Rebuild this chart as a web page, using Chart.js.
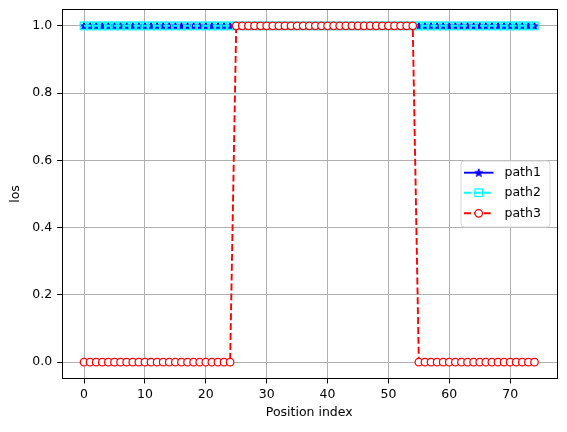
<!DOCTYPE html>
<html>
<head>
<meta charset="utf-8">
<script src="https://cdn.jsdelivr.net/npm/chart.js@4.4.1/dist/chart.umd.min.js"></script>
<style>
  html, body { margin: 0; padding: 0; background: #fff; }
  #box { width: 567px; height: 432px; }
</style>
</head>
<body>
<div id="box"><canvas id="grafico" width="567" height="432"></canvas></div>
<script>
// positions along the path
var positions = [0, 1, 2, 3, 4, 5, 6, 7, 8, 9, 10, 11, 12, 13, 14, 15, 16, 17, 18, 19,
    20, 21, 22, 23, 24, 25, 26, 27, 28, 29, 30, 31, 32, 33, 34, 35, 36, 37, 38, 39,
    40, 41, 42, 43, 44, 45, 46, 47, 48, 49, 50, 51, 52, 53, 54, 55, 56, 57, 58, 59,
    60, 61, 62, 63, 64, 65, 66, 67, 68, 69, 70, 71, 72, 73, 74];

var path1 = [1, 1, 1, 1, 1, 1, 1, 1, 1, 1, 1, 1, 1, 1, 1, 1, 1, 1, 1, 1,
    1, 1, 1, 1, 1, 1, 1, 1, 1, 1, 1, 1, 1, 1, 1, 1, 1, 1, 1, 1,
    1, 1, 1, 1, 1, 1, 1, 1, 1, 1, 1, 1, 1, 1, 1, 1, 1, 1, 1, 1,
    1, 1, 1, 1, 1, 1, 1, 1, 1, 1, 1, 1, 1, 1, 1];

var path2 = [1, 1, 1, 1, 1, 1, 1, 1, 1, 1, 1, 1, 1, 1, 1, 1, 1, 1, 1, 1,
    1, 1, 1, 1, 1, 1, 1, 1, 1, 1, 1, 1, 1, 1, 1, 1, 1, 1, 1, 1,
    1, 1, 1, 1, 1, 1, 1, 1, 1, 1, 1, 1, 1, 1, 1, 1, 1, 1, 1, 1,
    1, 1, 1, 1, 1, 1, 1, 1, 1, 1, 1, 1, 1, 1, 1];

var path3 = [0, 0, 0, 0, 0, 0, 0, 0, 0, 0, 0, 0, 0, 0, 0, 0, 0, 0, 0, 0,
    0, 0, 0, 0, 0, 1, 1, 1, 1, 1, 1, 1, 1, 1, 1, 1, 1, 1, 1, 1,
    1, 1, 1, 1, 1, 1, 1, 1, 1, 1, 1, 1, 1, 1, 1, 0, 0, 0, 0, 0,
    0, 0, 0, 0, 0, 0, 0, 0, 0, 0, 0, 0, 0, 0, 0];

var xTicks = [0, 10, 20, 30, 40, 50, 60, 70];
var yTicks = [0.0, 0.2, 0.4, 0.6, 0.8, 1.0];

var fonte = 'DejaVu Sans';
var tamFonte = 12.5;

function pontos(valores) {
    return valores.map(function(v, i) { return { x: positions[i], y: v }; });
}

// matplotlib style filled star
function desenhaEstrela(ctx, x, y, r) {
    var ri = r * 0.381966;
    ctx.beginPath();
    for (var k = 0; k < 10; k++) {
        var ang = -Math.PI / 2 + k * Math.PI / 5;
        var rr = (k % 2 === 0) ? r : ri;
        var px = x + rr * Math.cos(ang);
        var py = y + rr * Math.sin(ang);
        if (k === 0) ctx.moveTo(px, py); else ctx.lineTo(px, py);
    }
    ctx.closePath();
}

function imagemEstrela(cor) {
    var c = document.createElement('canvas');
    c.width = 12;
    c.height = 12;
    var g = c.getContext('2d');
    desenhaEstrela(g, 6, 6.3, 4.3);
    g.fillStyle = cor;
    g.fill();
    g.lineWidth = 1;
    g.strokeStyle = cor;
    g.stroke();
    return c;
}
var estrelaAzul = imagemEstrela('#0000ff');

var tracejado = [6.9, 3.0];

var molduraPlugin = {
    id: 'moldura',
    afterDatasetsDraw: function(chart) {
        var a = chart.chartArea;
        var ctx = chart.ctx;
        ctx.save();
        ctx.strokeStyle = '#000';
        ctx.lineWidth = 1;
        ctx.strokeRect(Math.round(a.left) + 0.5, Math.round(a.top) + 0.5,
            Math.round(a.right - a.left) - 1, Math.round(a.bottom - a.top) - 1);
        ctx.restore();
    }
};

var titulosPlugin = {
    id: 'titulosEixos',
    afterDraw: function(chart) {
        var a = chart.chartArea;
        var ctx = chart.ctx;
        ctx.save();
        ctx.fillStyle = '#000';
        ctx.font = tamFonte + 'px "' + fonte + '"';
        ctx.textAlign = 'center';
        ctx.textBaseline = 'middle';
        ctx.fillText('Position index', (a.left + a.right) / 2, 413);
        ctx.translate(16, (a.top + a.bottom) / 2);
        ctx.rotate(-Math.PI / 2);
        ctx.fillText('los', 0, 0);
        ctx.restore();
    }
};

var legendaPlugin = {
    id: 'legendaMpl',
    afterDraw: function(chart) {
        var ctx = chart.ctx;
        var x0 = 461, y0 = 161, w = 89, h = 66, r = 3;
        ctx.save();
        ctx.beginPath();
        ctx.moveTo(x0 + r, y0);
        ctx.arcTo(x0 + w, y0, x0 + w, y0 + h, r);
        ctx.arcTo(x0 + w, y0 + h, x0, y0 + h, r);
        ctx.arcTo(x0, y0 + h, x0, y0, r);
        ctx.arcTo(x0, y0, x0 + w, y0, r);
        ctx.closePath();
        ctx.fillStyle = 'rgba(255,255,255,0.8)';
        ctx.fill();
        ctx.strokeStyle = '#d6d6d6';
        ctx.lineWidth = 1;
        ctx.stroke();

        var linhas = [172.7, 192.7, 213.3];
        chart.data.datasets.forEach(function(ds, i) {
            var y = linhas[i];
            ctx.beginPath();
            ctx.setLineDash(ds.borderDash || []);
            ctx.strokeStyle = ds.borderColor;
            ctx.lineWidth = ds.borderWidth;
            ctx.moveTo(464, y);
            ctx.lineTo(493.5, y);
            ctx.stroke();
            ctx.setLineDash([]);
            var cx = 478.7;
            if (ds.marcador === 'estrela') {
                ctx.drawImage(estrelaAzul, cx - 6, y - 6);
            } else if (ds.marcador === 'quadrado') {
                ctx.strokeStyle = ds.pointBorderColor;
                ctx.lineWidth = ds.pointBorderWidth;
                ctx.strokeRect(cx - 3.75, y - 3.75, 7.5, 7.5);
            } else {
                ctx.beginPath();
                ctx.arc(cx, y, 3.75, 0, Math.PI * 2);
                ctx.fillStyle = ds.pointBackgroundColor;
                ctx.fill();
                ctx.strokeStyle = ds.pointBorderColor;
                ctx.lineWidth = ds.pointBorderWidth;
                ctx.stroke();
            }
            ctx.fillStyle = '#000';
            ctx.font = tamFonte + 'px "' + fonte + '"';
            ctx.textAlign = 'left';
            ctx.textBaseline = 'middle';
            ctx.fillText(ds.label, 504.5, y);
        });
        ctx.restore();
    }
};

var contexto = document.getElementById('grafico').getContext('2d');
new Chart(contexto, {
    type: 'line',
    data: {
        datasets: [{
            label: 'path1',
            data: pontos(path1),
            borderColor: '#0000ff',
            borderWidth: 1.9,
            pointStyle: estrelaAzul,
            pointRadius: 4,
            marcador: 'estrela',
            order: 3
        }, {
            label: 'path2',
            data: pontos(path2),
            borderColor: '#00ffff',
            borderWidth: 1.9,
            borderDash: tracejado,
            pointStyle: 'rect',
            pointRadius: 5.3,
            pointBackgroundColor: 'rgba(0,0,0,0)',
            pointBorderColor: '#00ffff',
            pointBorderWidth: 1.25,
            marcador: 'quadrado',
            order: 2
        }, {
            label: 'path3',
            data: pontos(path3),
            borderColor: '#ff0000',
            borderWidth: 1.9,
            borderDash: tracejado,
            pointStyle: 'circle',
            pointRadius: 3.75,
            pointBackgroundColor: '#ffffff',
            pointBorderColor: '#ff0000',
            pointBorderWidth: 1.25,
            marcador: 'circulo',
            order: 1
        }]
    },
    options: {
        responsive: false,
        animation: false,
        devicePixelRatio: 1,
        layout: { padding: { top: 9, right: 10, left: 0, bottom: 0 } },
        elements: { line: { tension: 0, fill: false } },
        plugins: {
            legend: { display: false },
            tooltip: { enabled: false }
        },
        scales: {
            x: {
                type: 'linear',
                min: -3.7,
                max: 77.7,
                afterBuildTicks: function(eixo) {
                    eixo.ticks = xTicks.map(function(v) { return { value: v }; });
                },
                afterFit: function(eixo) {
                    eixo.height = 53;
                    eixo.paddingLeft = 0;
                    eixo.paddingRight = 0;
                },
                grid: { color: '#b0b0b0', lineWidth: 1, tickColor: '#000', tickLength: 4.4 },
                border: { display: false },
                ticks: {
                    color: '#000',
                    padding: 3.5,
                    maxRotation: 0,
                    font: { family: fonte, size: tamFonte },
                    callback: function(v) { return v; }
                }
            },
            y: {
                type: 'linear',
                min: -0.05,
                max: 1.05,
                afterBuildTicks: function(eixo) {
                    eixo.ticks = yTicks.map(function(v) { return { value: v }; });
                },
                afterFit: function(eixo) {
                    eixo.width = 61.5;
                    eixo.paddingTop = 0;
                    eixo.paddingBottom = 0;
                },
                grid: { color: '#b0b0b0', lineWidth: 1, tickColor: '#000', tickLength: 4.4 },
                border: { display: false },
                ticks: {
                    color: '#000',
                    padding: 5,
                    font: { family: fonte, size: tamFonte },
                    callback: function(v) { return v.toFixed(1); }
                }
            }
        }
    },
    plugins: [molduraPlugin, titulosPlugin, legendaPlugin]
});
</script>
</body>
</html>
